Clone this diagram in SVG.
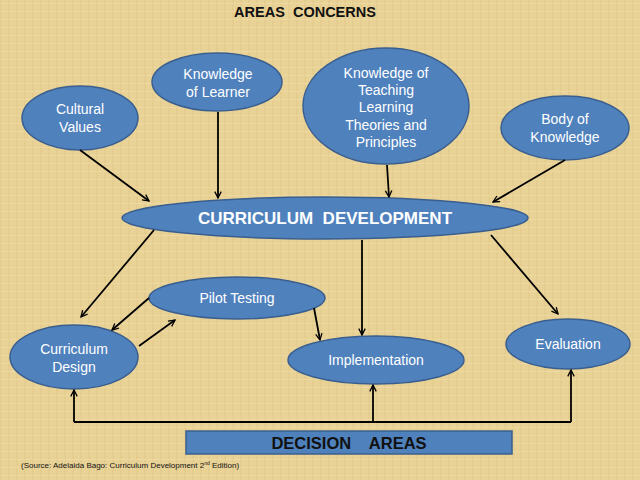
<svg xmlns="http://www.w3.org/2000/svg" width="640" height="480" viewBox="0 0 640 480">
<defs>
<marker id="ah" viewBox="0 0 10 10" refX="9" refY="5" markerWidth="8" markerHeight="8" orient="auto" markerUnits="userSpaceOnUse">
<path d="M1,1 L9,5 L1,9" fill="none" stroke="#000" stroke-width="1.6"/>
</marker>
<pattern id="tex" width="8" height="8" patternUnits="userSpaceOnUse">
<rect width="8" height="8" fill="#e9d296"/>
<rect x="0" width="2" height="8" fill="#e2c98c" opacity="0.6"/>
<rect y="3" width="8" height="1" fill="#f0dea9" opacity="0.6"/>
</pattern>
</defs>
<style>
.n{fill:#4f81bd;stroke:#3a5f8f;stroke-width:1.5}
.t{font-family:"Liberation Sans",Arial,sans-serif;font-size:14px;fill:#fff;text-anchor:middle}
.c{stroke:#000;stroke-width:1.8;fill:none}
.b{font-family:"Liberation Sans",Arial,sans-serif;font-weight:bold;text-anchor:middle;white-space:pre}
</style>
<rect width="640" height="480" fill="url(#tex)"/>
<text class="b" xml:space="preserve" x="305" y="17" font-size="14.5" fill="#111">AREAS  CONCERNS</text>

<g id="cultural-values"><ellipse class="n" cx="80" cy="118" rx="58" ry="32"/><text class="t" x="80" y="114">Cultural</text><text class="t" x="80" y="132">Values</text></g>
<g id="knowledge-of-learner"><ellipse class="n" cx="217" cy="82" rx="65" ry="29"/><text class="t" x="218" y="79">Knowledge</text><text class="t" x="218" y="97">of Learner</text></g>
<g id="knowledge-teaching"><ellipse class="n" cx="386" cy="106" rx="83" ry="58"/><text class="t" x="386" y="78">Knowledge of</text><text class="t" x="386" y="95">Teaching</text><text class="t" x="386" y="112">Learning</text><text class="t" x="386" y="130">Theories and</text><text class="t" x="386" y="147">Principles</text></g>
<g id="body-of-knowledge"><ellipse class="n" cx="565" cy="128" rx="64" ry="32"/><text class="t" x="565" y="124">Body of</text><text class="t" x="565" y="142">Knowledge</text></g>
<g id="curriculum-development"><ellipse class="n" cx="325" cy="218" rx="203" ry="21"/><text class="b" xml:space="preserve" x="325" y="224" font-size="17" fill="#fff">CURRICULUM  DEVELOPMENT</text></g>
<g id="pilot-testing"><ellipse class="n" cx="237" cy="298" rx="88" ry="21"/><text class="t" x="237" y="303">Pilot Testing</text></g>
<g id="curriculum-design"><ellipse class="n" cx="74" cy="357" rx="64" ry="32"/><text class="t" x="74" y="354">Curriculum</text><text class="t" x="74" y="372">Design</text></g>
<g id="implementation"><ellipse class="n" cx="376" cy="360" rx="88" ry="24"/><text class="t" x="376" y="365">Implementation</text></g>
<g id="evaluation"><ellipse class="n" cx="568" cy="344" rx="62" ry="25"/><text class="t" x="568" y="349">Evaluation</text></g>
<g id="decision-areas"><rect x="186" y="431" width="326" height="23" fill="#4f81bd" stroke="#3a5f8f" stroke-width="1.5"/><text class="b" xml:space="preserve" x="349" y="449" font-size="16.5" fill="#111">DECISION    AREAS</text></g>

<g id="connectors">
<line class="c" x1="80" y1="150" x2="149" y2="201" marker-end="url(#ah)"/>
<line class="c" x1="218" y1="112" x2="218" y2="198" marker-end="url(#ah)"/>
<line class="c" x1="387" y1="165" x2="389" y2="197" marker-end="url(#ah)"/>
<line class="c" x1="565" y1="160" x2="493" y2="202" marker-end="url(#ah)"/>
<line class="c" x1="154" y1="230" x2="81" y2="317" marker-end="url(#ah)"/>
<line class="c" x1="362" y1="240" x2="362" y2="335" marker-end="url(#ah)"/>
<line class="c" x1="491" y1="235" x2="558" y2="314" marker-end="url(#ah)"/>
<line class="c" x1="149" y1="298" x2="112" y2="330" marker-end="url(#ah)"/>
<line class="c" x1="139" y1="346" x2="175" y2="320" marker-end="url(#ah)"/>
<line class="c" x1="314" y1="308" x2="320" y2="340" marker-end="url(#ah)"/>
<polyline class="c" points="74,422 571,422"/>
<line class="c" x1="74" y1="422" x2="74" y2="390" marker-end="url(#ah)"/>
<line class="c" x1="373" y1="422" x2="373" y2="385" marker-end="url(#ah)"/>
<line class="c" x1="571" y1="422" x2="571" y2="370" marker-end="url(#ah)"/>
</g>
<text x="21" y="468" font-family="Liberation Sans, Arial, sans-serif" font-size="8" fill="#111">(Source: Adelaida Bago: Curriculum Development 2<tspan font-size="5" dy="-3">nd</tspan><tspan dy="3"> Edition)</tspan></text>
</svg>
